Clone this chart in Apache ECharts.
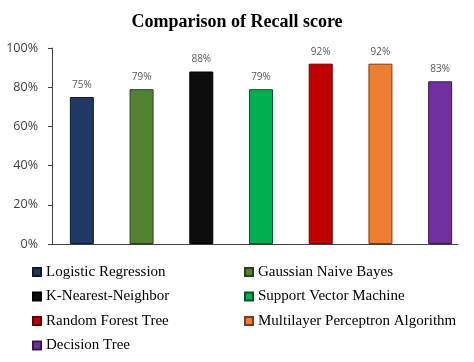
<!DOCTYPE html>
<html><head><meta charset="utf-8">
<script src="https://cdn.jsdelivr.net/npm/echarts@6/dist/echarts.min.js"></script>
<style>html,body{margin:0;padding:0;background:#fff}#c{width:474px;height:362px}</style>
</head><body><div id="c"></div>
<script>
const categories = ["Logistic Regression","Gaussian Naive Bayes","K-Nearest-Neighbor","Support Vector Machine","Random Forest Tree","Multilayer Perceptron Algorithm","Decision Tree"];
const values = [75, 79, 88, 79, 92, 92, 83];
const colors = ["#1f3864","#548235","#0d0d0d","#00b050","#c00000","#ed7d31","#7030a0"];
const borders = ["#0e1a30","#2a4019","#000000","#005828","#600000","#76401a","#381850"];
const yTicks = [0,20,40,60,80,100];

const series = categories.map((name,i)=>({
  name: name,
  type: 'bar',
  xAxisIndex: 0, yAxisIndex: 0,
  barWidth: 24,
  barGap: '-100%',
  itemStyle: {color: colors[i], borderColor: borders[i], borderWidth: 1},
  label: {show: true, position: 'top', distance: 7, formatter: p => p.value + '%',
    fontFamily: 'Open Sans', fontSize: 10, color: '#595959'},
  data: categories.map((c,j)=> j===i ? values[i] : '-')
}));

const legendText = {fontFamily: 'Liberation Serif', fontSize: 15, color: '#000', lineHeight: 16};
const chart = echarts.init(document.getElementById('c'));
chart.setOption({
  animation: false,
  title: {text: 'Comparison of Recall score', left: 'center', top: 8,
    textStyle: {fontFamily: 'Liberation Serif', fontSize: 18, fontWeight: 'bold', color: '#000'}},
  grid: [
    {left: 52, right: 4, top: 48, bottom: 118},
    {left: 52, right: 16, top: 48, bottom: 118}
  ],
  xAxis: [
    {type: 'category', gridIndex: 0, data: categories, axisLine: {show: false}, axisTick: {show: false}, axisLabel: {show: false}},
    {type: 'category', gridIndex: 1, data: categories, axisLine: {show: true, lineStyle: {color: '#404040', width: 1}}, axisTick: {show: false}, axisLabel: {show: false}}
  ],
  yAxis: [
    {type: 'value', gridIndex: 0, min: 0, max: 100, interval: 20,
      axisLine: {show: true, lineStyle: {color: '#404040', width: 1}},
      axisTick: {show: true, length: 4, lineStyle: {color: '#404040'}},
      splitLine: {show: false},
      axisLabel: {formatter: v => yTicks.includes(v) ? v + '%' : '', fontFamily: 'Open Sans', fontSize: 12.5, color: '#404040', margin: 14}},
    {type: 'value', gridIndex: 1, min: 0, max: 100, show: false}
  ],
  legend: [
    {orient: 'vertical', left: 32, top: 264, height: 110, padding: 0, itemWidth: 8, itemHeight: 8, itemGap: 8.5,
      data: [categories[0], categories[2], categories[4], categories[6]], textStyle: legendText, selectedMode: false, icon: 'rect'},
    {orient: 'vertical', left: 244, top: 264, height: 110, padding: 0, itemWidth: 8, itemHeight: 8, itemGap: 8.5,
      data: [categories[1], categories[3], categories[5]], textStyle: legendText, selectedMode: false, icon: 'rect'}
  ],
  series: series
});
</script></body></html>
